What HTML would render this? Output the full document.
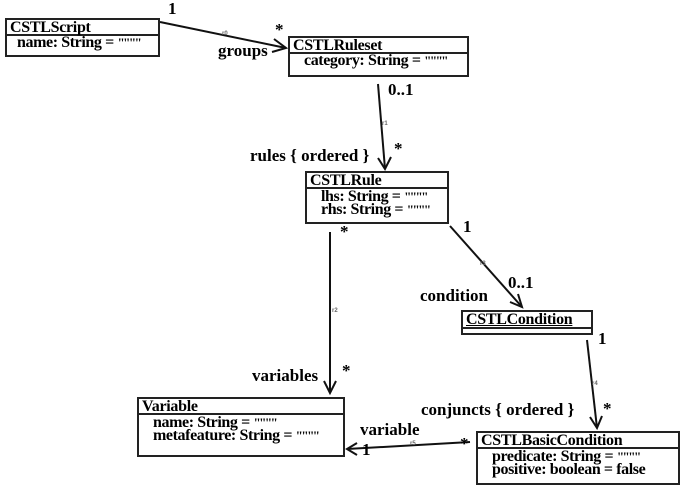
<!DOCTYPE html>
<html><head><style>
body{margin:0;width:685px;height:488px;background:#fff;overflow:hidden;font-family:"Liberation Serif",serif;font-weight:bold;}
.b{position:absolute;border:2px solid #222;background:#fff;font-size:16px;line-height:13px;overflow:hidden;white-space:nowrap;}
.h{border-bottom:2px solid #222;padding:1px 3px 0 3px;letter-spacing:-0.3px}
.a{padding:0 3px 1px 14px;letter-spacing:-0.4px}
.q{letter-spacing:-1.5px;font-size:13px}
.t{position:absolute;font-size:17px;line-height:14px;white-space:nowrap;}
svg{position:absolute;left:0;top:0;}
</style></head><body>
<svg width="685" height="488">
<g stroke="#111" stroke-width="2" fill="none">
<line x1="160" y1="22" x2="286" y2="48"/><polyline points="274,39 286,48 272,52"/>
<line x1="378" y1="84" x2="385" y2="169"/><polyline points="378,158 385,169 391,157"/>
<line x1="450" y1="226" x2="522" y2="307"/><polyline points="510,302 522,307 518,294"/>
<line x1="330" y1="232" x2="330" y2="393"/><polyline points="324,381 330,393 336,381"/>
<line x1="587" y1="340" x2="597" y2="428"/><polyline points="590,417 597,428 602,416"/>
<line x1="470" y1="442" x2="347" y2="449"/><polyline points="357,443 347,449 357,455"/>
</g>
<g font-size="6" fill="#666" font-family="Liberation Sans">
<text x="222" y="35">r0</text><text x="382" y="125">r1</text><text x="480" y="265">r3</text>
<text x="332" y="312">r2</text><text x="592" y="385">r4</text><text x="410" y="445">r5</text>
</g>
</svg>
<div class="b" style="left:5px;top:18px;width:151px;height:35px"><div class="h">CSTLScript</div><div class="a" style="padding-left:10px">name: String = <span class="q">""""</span></div></div>
<div class="b" style="left:288px;top:36px;width:177px;height:37px"><div class="h">CSTLRuleset</div><div class="a">category: String = <span class="q">""""</span></div></div>
<div class="b" style="left:305px;top:171px;width:140px;height:49px"><div class="h">CSTLRule</div><div class="a" style="padding-top:1px">lhs: String = <span class="q">""""</span><br>rhs: String = <span class="q">""""</span></div></div>
<div class="b" style="left:461px;top:310px;width:128px;height:21px"><div class="h" style="text-decoration:underline;height:14px">CSTLCondition</div></div>
<div class="b" style="left:137px;top:397px;width:204px;height:56px"><div class="h">Variable</div><div class="a" style="padding-top:1px">name: String = <span class="q">""""</span><br>metafeature: String = <span class="q">""""</span></div></div>
<div class="b" style="left:476px;top:431px;width:200px;height:50px"><div class="h">CSTLBasicCondition</div><div class="a" style="padding-top:1px">predicate: String = <span class="q">""""</span><br>positive: boolean = false</div></div>
<div class="t" style="left:168px;top:2px">1</div>
<div class="t" style="left:275px;top:23px">*</div>
<div class="t" style="left:218px;top:44px">groups</div>
<div class="t" style="left:388px;top:83px">0..1</div>
<div class="t" style="left:394px;top:142px">*</div>
<div class="t" style="left:250px;top:149px">rules { ordered }</div>
<div class="t" style="left:463px;top:220px">1</div>
<div class="t" style="left:340px;top:225px">*</div>
<div class="t" style="left:508px;top:276px">0..1</div>
<div class="t" style="left:420px;top:289px">condition</div>
<div class="t" style="left:598px;top:332px">1</div>
<div class="t" style="left:252px;top:369px">variables</div>
<div class="t" style="left:342px;top:364px">*</div>
<div class="t" style="left:421px;top:403px">conjuncts { ordered }</div>
<div class="t" style="left:603px;top:402px">*</div>
<div class="t" style="left:360px;top:423px">variable</div>
<div class="t" style="left:362px;top:443px">1</div>
<div class="t" style="left:460px;top:437px">*</div>
</body></html>
